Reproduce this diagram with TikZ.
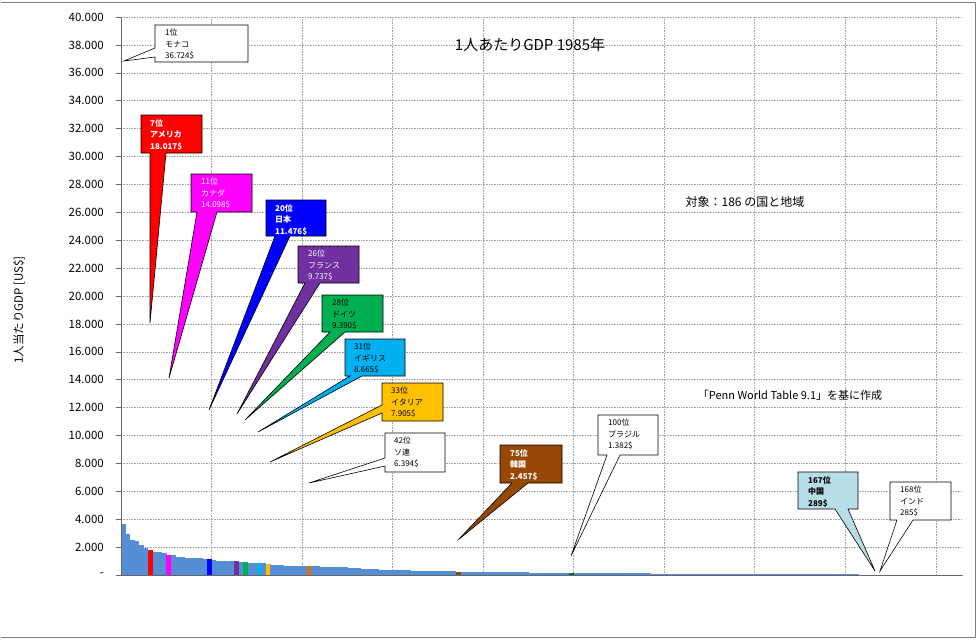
\documentclass[tikz,border=0pt]{standalone}
\usepackage{fontspec}
\setmainfont{Noto Sans CJK JP}
\definecolor{barblue}{RGB}{85,142,213}
\definecolor{cred}{RGB}{255,0,0}
\definecolor{cmag}{RGB}{255,0,255}
\definecolor{cblue}{RGB}{0,0,255}
\definecolor{cpur}{RGB}{112,48,160}
\definecolor{cgreen}{RGB}{0,176,80}
\definecolor{csky}{RGB}{0,176,240}
\definecolor{cgold}{RGB}{255,192,0}
\definecolor{corange}{RGB}{228,108,10}
\definecolor{cbrown}{RGB}{151,72,6}
\definecolor{cdkgreen}{RGB}{0,110,40}
\definecolor{clight}{RGB}{183,221,232}
\definecolor{clime}{RGB}{146,208,80}
\tikzset{
  grid/.style={gray!70,densely dotted,line width=0.6pt},
  ctext/.style={anchor=north west,align=left,font=\fontsize{8}{11.5}\selectfont,inner sep=0pt},
  ylab/.style={anchor=east,font=\fontsize{11.5}{12}\selectfont,inner sep=0pt},
}
\newcommand\barw{4.527}
% bottom-pointer callout: x1,y1,x2,y2,b1,b2,tipx,tipy,fill
\newcommand\callB[9]{\filldraw[fill=#9,draw=black,line width=0.6pt,line join=miter] (#1,#2)--(#3,#2)--(#3,#4)--(#6,#4)--(#7,#8)--(#5,#4)--(#1,#4)--cycle;}
% left-pointer callout: x1,y1,x2,y2,p1,p2,tipx,tipy,fill
\newcommand\callL[9]{\filldraw[fill=#9,draw=black,line width=0.6pt,line join=miter] (#1,#2)--(#3,#2)--(#3,#4)--(#1,#4)--(#1,#6)--(#7,#8)--(#1,#5)--cycle;}
\begin{document}
\begin{tikzpicture}[x=1pt,y=-1pt]
\useasboundingbox (0,0) rectangle (979,640);
\fill[white] (0,0) rectangle (979,640);
\draw[gray,line width=1pt] (0.5,2) -- (975,2) -- (975,637) -- (0.5,637);
% grid
\foreach \k in {1,...,20}{\draw[grid] (121,{575-\k*27.9}) -- (962,{575-\k*27.9});}
\foreach \k in {1,...,9}{\draw[grid] ({121+20*\k*\barw},17) -- ({121+20*\k*\barw},575);}
% bars explicit (values in hundreds of US$)
\foreach \i/\v in {1/367.24,2/295,3/250,4/243,5/215,6/197,7/180.17,8/166,9/165,10/158,11/140.98,12/140,13/132,14/127,15/124,16/122,17/120,18/119,19/116,20/114.76,21/107,22/100,23/99,24/98.5,25/98,26/97.37,27/95,28/93.9,29/89,30/87,31/86.65,32/84,33/79.05,34/74,35/71,36/69,37/68,38/67,39/66,40/65,41/64.5,42/63.94}
  {\fill[barblue] ({121+(\i-1)*\barw},575) rectangle ({121+\i*\barw+0.3},{575-\v*0.1395});}
% bars segments
\foreach \a/\va/\b/\vb in {42/63.94/45/60,45/60/48/56,48/56/50/54,50/54/53/47,53/47/55/44,55/44/57/40,57/40/60/35,60/35/65/32,65/32/70/28,70/28/75/24.57,75/24.57/80/22,80/22/90/18,90/18/100/13.82,100/13.82/110/12,110/12/120/10.5,120/10.5/130/9,130/9/140/7.5,140/7.5/150/6,150/6/160/4.5,160/4.5/166/3,166/3/167/2.89,167/2.89/168/2.85,168/2.85/175/2.5,175/2.5/186/1.8}{
  \pgfmathtruncatemacro\n{\b-\a}
  \foreach \k in {1,...,\n}{
    \pgfmathsetmacro\v{\va+(\vb-\va)*\k/\n}
    \pgfmathtruncatemacro\i{\a+\k}
    \fill[barblue] ({121+(\i-1)*\barw},575) rectangle ({121+\i*\barw+0.3},{575-\v*0.1395});
  }}
% highlighted bars
\foreach \i/\v/\c in {7/180.17/cred,11/140.98/cmag,20/114.76/cblue,26/97.37/cpur,28/93.9/cgreen,31/86.65/csky,33/79.05/cgold,42/63.94/corange,75/24.57/cbrown,100/13.82/cdkgreen,167/2.89/clight,168/2.85/clime}
  {\fill[\c] ({121+(\i-1)*\barw},575) rectangle ({121+\i*\barw},{575-\v*0.1395});}
% axes
\draw[gray!80!black,line width=0.6pt] (121,17) -- (121,575) -- (962,575);
\foreach \k in {0,...,20}{\draw[gray!80!black,line width=0.6pt] (116,{575-\k*27.9}) -- (121,{575-\k*27.9});}
\foreach \k in {1,...,20}{\pgfmathtruncatemacro\t{2*\k}\node[ylab] (yl\k) at (104,{575-\k*27.9}) {\t.000};}
\node[ylab] (yl0) at (104,575) {-};
\node[rotate=90,font=\fontsize{11.5}{12}\selectfont] (ytitle) at (19,310) {1人当たりGDP [US\$]};
% titles
\node[font=\fontsize{15}{16}\selectfont] (title) at (530,45) {1人あたりGDP 1985年};
\node[font=\fontsize{12}{13}\selectfont] (target) at (745,202) {対象：186 の国と地域};
\node[font=\fontsize{11}{12}\selectfont] (source) at (790,395) {「Penn World Table 9.1」を基に作成};
% callouts
\callL{155}{25}{248}{62}{48}{57}{124}{61}{white}
\node[ctext] (c1) at (165,29) {1位\\モナコ\\36.724\$};
\callB{141}{115}{202}{153}{150}{166}{150}{323}{cred}
\node[ctext,text=white,font=\bfseries\fontsize{8}{11.5}\selectfont] (c7) at (150,119) {7位\\アメリカ\\18.017\$};
\callB{191}{174}{252}{212}{197}{217}{169}{378}{cmag}
\node[ctext,text=white] (c11) at (201,178) {11位\\カナダ\\14.098\$};
\callB{266}{200}{326}{236}{275}{290}{209}{410}{cblue}
\node[ctext,text=white,font=\bfseries\fontsize{8}{11.5}\selectfont] (c20) at (275,204) {20位\\日本\\11.476\$};
\callB{298}{246}{359}{283}{305}{320}{237}{414}{cpur}
\node[ctext,text=white] (c26) at (308,250) {26位\\フランス\\9.737\$};
\callB{322}{295}{383}{332}{330}{345}{245}{420}{cgreen}
\node[ctext] (c28) at (332,299) {28位\\ドイツ\\9.390\$};
\callB{345}{339}{405}{376}{350}{362}{258}{432}{csky}
\node[ctext] (c31) at (354,343) {31位\\イギリス\\8.665\$};
\callL{382}{383}{443}{421}{405}{413}{270}{462}{cgold}
\node[ctext] (c33) at (391,387) {33位\\イタリア\\7.905\$};
\callL{385}{433}{445}{472}{458}{466}{309}{483}{white}
\node[ctext] (c42) at (394,437) {42位\\ソ連\\6.394\$};
\callB{500}{445}{562}{483}{512}{528}{458}{540}{cbrown}
\node[ctext,text=white,font=\bfseries\fontsize{8}{11.5}\selectfont] (c75) at (510,449) {75位\\韓国\\2.457\$};
\callB{598}{415}{658}{455}{607}{620}{571}{556}{white}
\node[ctext] (c100) at (608,419) {100位\\ブラジル\\1.382\$};
\callB{798}{472}{858}{509}{835}{848}{875}{571}{clight}
\node[ctext,font=\bfseries\fontsize{8}{11.5}\selectfont] (c167) at (808,476) {167位\\中国\\289\$};
\callB{890}{482}{951}{520}{897}{913}{880}{571}{white}
\node[ctext] (c168) at (900,486) {168位\\インド\\285\$};
\end{tikzpicture}
\end{document}
